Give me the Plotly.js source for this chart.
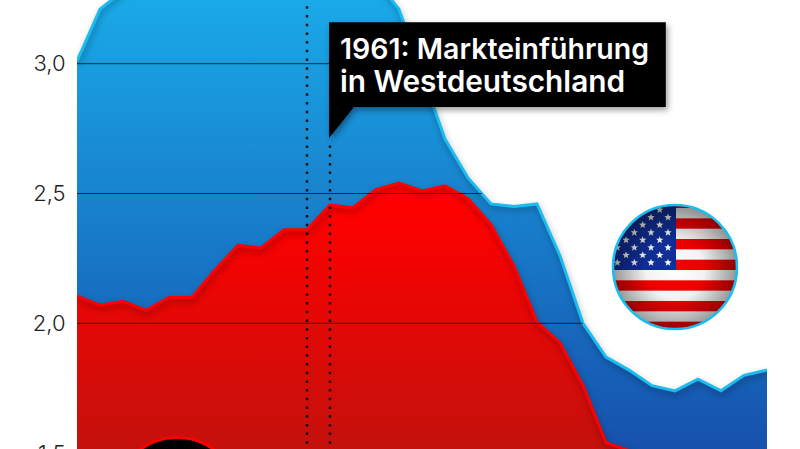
<!DOCTYPE html>
<html><head><meta charset="utf-8">
<script src="https://cdn.plot.ly/plotly-3.0.1.min.js"></script>
<style>
html,body{margin:0;padding:0;width:800px;height:449px;overflow:hidden;background:#fff}
#chart{position:absolute;left:0;top:-170px;width:800px;height:753px}
</style></head><body>
<div id="chart"></div>
<script>
const years = [1950,1951,1952,1953,1954,1955,1956,1957,1958,1959,1960,1961,1962,1963,1964,1965,1966,1967,1968,1969,1970,1971,1972,1973,1974,1975,1976,1977,1978,1979,1980];
const usaValues = [3.01,3.21,3.28,3.37,3.46,3.55,3.62,3.68,3.63,3.62,3.60,3.53,3.46,3.32,3.21,2.96,2.71,2.56,2.46,2.45,2.46,2.26,2.00,1.87,1.82,1.76,1.74,1.785,1.74,1.80,1.82];
const germanyValues = [2.105,2.07,2.085,2.05,2.10,2.10,2.205,2.30,2.29,2.36,2.36,2.455,2.445,2.515,2.54,2.51,2.53,2.48,2.38,2.22,2.005,1.925,1.76,1.54,1.51,1.45,1.46,1.40,1.38,1.39,1.44];
const tickValues = [1.5,2.0,2.5,3.0];
const tickLabels = ["1,5","2,0","2,5","3,0"];
const gridLevels = [2.0,2.5,3.0];
const gridEnds = [1972,1967.6,1964.84];
const calloutLines = ["1961: Markteinführung","in Westdeutschland"];

function usFlag(){
  let s='';
  s+='<svg xmlns="http://www.w3.org/2000/svg" width="130" height="130" viewBox="0 0 130 130">';
  s+='<defs><clipPath id="cp"><circle cx="65" cy="65" r="62"/></clipPath>';
  s+='<radialGradient id="sh" cx="50%" cy="52%" r="50%"><stop offset="0" stop-color="#000" stop-opacity="0"/><stop offset=".45" stop-color="#000" stop-opacity=".05"/><stop offset="1" stop-color="#000" stop-opacity=".45"/></radialGradient></defs>';
  s+='<g clip-path="url(#cp)"><rect width="130" height="130" fill="#fff"/>';
  const h=10.33, base=68;
  for(let i=-7;i<7;i++){ if(i%2!==0){ s+='<rect x="0" y="'+(base+i*h)+'" width="130" height="'+h+'" fill="#f80000"/>'; } }
  s+='<rect x="0" y="0" width="66" height="68" fill="#10309c"/>';
  const star=(x,y,r)=>{let p=[];for(let k=0;k<10;k++){const a=-Math.PI/2+k*Math.PI/5,q=k%2?r*.42:r;p.push((x+q*Math.cos(a)).toFixed(2)+','+(y+q*Math.sin(a)).toFixed(2));}return '<polygon points="'+p.join(' ')+'" fill="#fff"/>';};
  for(let row=0;row<9;row++){
    const y=60.7-row*7.55;
    const offs=row%2===0?[7.3,24.3,41,58]:[16,32.7,49.7];
    offs.forEach(x=>{s+=star(x,y,3.9);});
  }
  s+='<rect width="130" height="130" fill="url(#sh)"/></g>';
  s+='<circle cx="65" cy="65" r="62" fill="none" stroke="#1bbdf0" stroke-width="2.6"/></svg>';
  return 'data:image/svg+xml;charset=utf-8,'+encodeURIComponent(s);
}

const lineTrace=(y,col,start,stop,scale,name)=>({
  x:years,y:y,mode:'lines',name:name,fill:'tozeroy',hoverinfo:'skip',
  line:{color:col,width:3,shape:'linear'},
  fillgradient:{type:'vertical',start:start,stop:stop,colorscale:scale}
});
const traces=[
  lineTrace(usaValues,'#1bbdf0',3.245,1.516,[[0,'#1aa9e8'],[1,'#1651ad']],'USA'),
  lineTrace(germanyValues,'#ff0000',2.45,1.516,[[0,'#ff0000'],[1,'#c4110c']],'Westdeutschland')
];
gridLevels.forEach((g,i)=>traces.push({x:[1950,gridEnds[i]],y:[g,g],mode:'lines',hoverinfo:'skip',showlegend:false,line:{color:'rgba(15,20,35,0.85)',width:1}}));

const layout={
  width:800,height:753,showlegend:false,
  margin:{l:77,r:33,t:0,b:0,pad:0},
  paper_bgcolor:'#fff',plot_bgcolor:'#fff',
  xaxis:{range:[1950,1980],showgrid:false,zeroline:false,showline:false,showticklabels:false,ticks:''},
  yaxis:{range:[1.0,3.9],showgrid:false,zeroline:false,showline:false,tickmode:'array',tickvals:tickValues,ticktext:tickLabels,ticks:'outside',ticklen:6,tickcolor:'rgba(0,0,0,0)',tickfont:{family:'Inter',size:22,color:'#222',weight:300}},
  shapes:[
    {type:'line',layer:'above',xref:'x',yref:'y',x0:1960,x1:1960,y0:1.0,y1:3.9,line:{color:'#111',width:2.5,dash:'2.5px,6.2px'}},
    {type:'line',layer:'above',xref:'x',yref:'y',x0:1961,x1:1961,y0:1.0,y1:2.69,line:{color:'#111',width:2.5,dash:'2.5px,6.2px'}},
    {type:'path',layer:'above',xref:'x',yref:'y',fillcolor:'#000',line:{width:0},
     path:'M 1960.96 3.16 L 1975.6 3.16 L 1975.6 2.833 L 1962.04 2.833 L 1960.96 2.714 Z'},
    {type:'circle',layer:'above',xref:'x',yref:'y',x0:1951.65,x1:1957.05,y0:1.08,y1:1.56,fillcolor:'#000',line:{color:'#ff0000',width:3}}
  ],
  images:[{source:usFlag(),xref:'x',yref:'y',x:1976,y:2.217,sizex:130/23,sizey:130/259.66,xanchor:'center',yanchor:'middle',sizing:'stretch',layer:'above'}],
  annotations:[
   {xref:'x',yref:'y',x:1961,y:3.06,xanchor:'left',yanchor:'middle',xshift:8,showarrow:false,align:'left',text:calloutLines[0],font:{family:'Inter',size:28.5,color:'#fff',weight:600}},
   {xref:'x',yref:'y',x:1961,y:2.933,xanchor:'left',yanchor:'middle',xshift:8,showarrow:false,align:'left',text:calloutLines[1],font:{family:'Inter',size:29.8,color:'#fff',weight:600}}
  ]
};
Plotly.newPlot('chart',traces,layout,{staticPlot:true,displayModeBar:false}).then(()=>{
  document.querySelectorAll('.scatterlayer .trace').forEach((t,i)=>{
    if(i<2){const l=t.querySelector('.js-line'); if(l) l.style.filter='drop-shadow(1px 3px 3px rgba(0,0,0,0.35))';}
  });
  document.querySelectorAll('.layer-above .shapelayer path').forEach(p=>{ if(p.getAttribute('d') && p.getAttribute('d').split('L').length>4 && !p.getAttribute('d').includes('A')) p.style.filter='drop-shadow(2px 3px 3px rgba(0,0,0,0.4))';});
});
</script>
</body></html>
